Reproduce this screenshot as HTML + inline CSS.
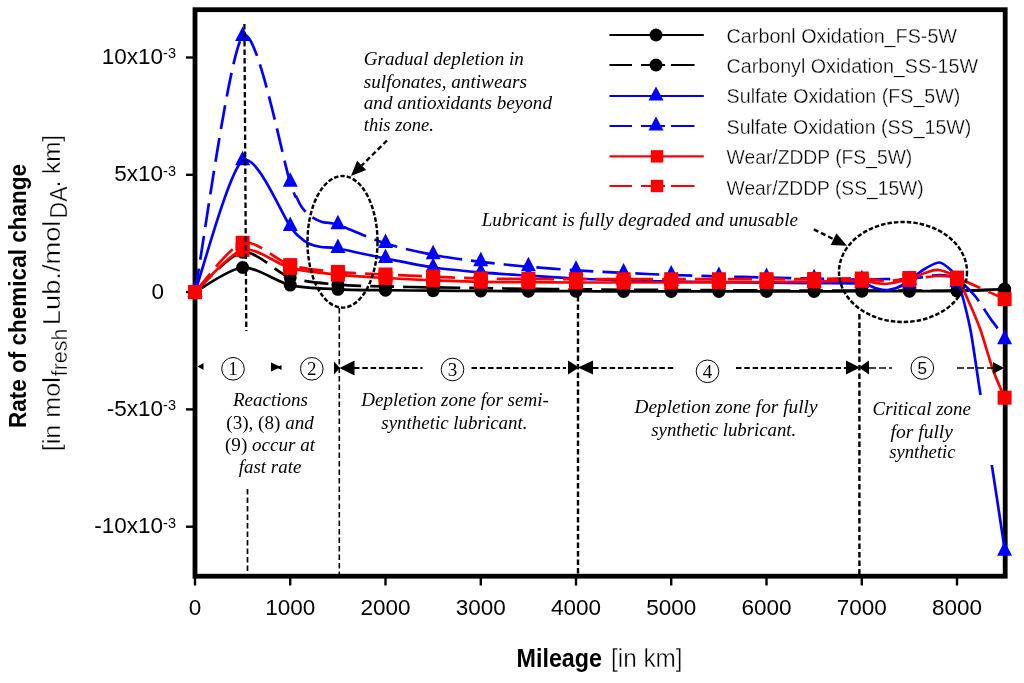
<!DOCTYPE html>
<html lang="en"><head><meta charset="utf-8"><title>Rate of chemical change vs mileage</title>
<style>html,body{margin:0;padding:0;background:#fff}svg{display:block}</style></head>
<body>
<svg width="1024" height="683" viewBox="0 0 1024 683">
<rect width="1024" height="683" fill="#fff"/>
<rect x="195" y="9.7" width="810.2" height="566.5" fill="none" stroke="#000" stroke-width="4.8"/>
<line x1="186" y1="57.5" x2="195" y2="57.5" stroke="#000" stroke-width="2.4"/>
<line x1="186" y1="174.8" x2="195" y2="174.8" stroke="#000" stroke-width="2.4"/>
<line x1="186" y1="292.1" x2="195" y2="292.1" stroke="#000" stroke-width="2.4"/>
<line x1="186" y1="409.4" x2="195" y2="409.4" stroke="#000" stroke-width="2.4"/>
<line x1="186" y1="526.7" x2="195" y2="526.7" stroke="#000" stroke-width="2.4"/>
<line x1="195.0" y1="576" x2="195.0" y2="585.5" stroke="#000" stroke-width="2.4"/>
<line x1="290.2" y1="576" x2="290.2" y2="585.5" stroke="#000" stroke-width="2.4"/>
<line x1="385.5" y1="576" x2="385.5" y2="585.5" stroke="#000" stroke-width="2.4"/>
<line x1="480.8" y1="576" x2="480.8" y2="585.5" stroke="#000" stroke-width="2.4"/>
<line x1="576.0" y1="576" x2="576.0" y2="585.5" stroke="#000" stroke-width="2.4"/>
<line x1="671.2" y1="576" x2="671.2" y2="585.5" stroke="#000" stroke-width="2.4"/>
<line x1="766.5" y1="576" x2="766.5" y2="585.5" stroke="#000" stroke-width="2.4"/>
<line x1="861.8" y1="576" x2="861.8" y2="585.5" stroke="#000" stroke-width="2.4"/>
<line x1="957.0" y1="576" x2="957.0" y2="585.5" stroke="#000" stroke-width="2.4"/>
<g id="data">
<path d="M195.0 292.1 C201.7 288.7 229.3 268.5 242.6 267.5 C256.0 266.5 276.9 282.0 290.2 285.1 C303.6 288.1 324.5 288.6 337.9 289.3 C351.2 290.0 372.2 290.0 385.5 290.2 C398.8 290.4 419.8 290.6 433.1 290.7 C446.5 290.8 467.4 290.9 480.8 290.9 C494.1 291.0 515.0 291.1 528.4 291.2 C541.7 291.2 562.7 291.1 576.0 291.2 C589.3 291.2 610.3 291.4 623.6 291.4 C637.0 291.4 657.9 291.4 671.2 291.4 C684.6 291.4 705.5 291.4 718.9 291.4 C732.2 291.4 753.2 291.4 766.5 291.4 C779.8 291.4 800.8 291.4 814.1 291.4 C827.5 291.4 848.4 291.2 861.8 291.2 C875.1 291.1 896.0 291.2 909.4 291.2 C922.7 291.1 943.7 291.2 957.0 290.9 C970.3 290.6 998.0 289.3 1004.6 289.1" fill="none" stroke="#000" stroke-width="2.7" stroke-linejoin="round"/>
<circle cx="195.0" cy="292.1" r="6.5" fill="#000"/>
<circle cx="242.6" cy="267.5" r="6.5" fill="#000"/>
<circle cx="290.2" cy="285.1" r="6.5" fill="#000"/>
<circle cx="337.9" cy="289.3" r="6.5" fill="#000"/>
<circle cx="385.5" cy="290.2" r="6.5" fill="#000"/>
<circle cx="433.1" cy="290.7" r="6.5" fill="#000"/>
<circle cx="480.8" cy="290.9" r="6.5" fill="#000"/>
<circle cx="528.4" cy="291.2" r="6.5" fill="#000"/>
<circle cx="576.0" cy="291.2" r="6.5" fill="#000"/>
<circle cx="623.6" cy="291.4" r="6.5" fill="#000"/>
<circle cx="671.2" cy="291.4" r="6.5" fill="#000"/>
<circle cx="718.9" cy="291.4" r="6.5" fill="#000"/>
<circle cx="766.5" cy="291.4" r="6.5" fill="#000"/>
<circle cx="814.1" cy="291.4" r="6.5" fill="#000"/>
<circle cx="861.8" cy="291.2" r="6.5" fill="#000"/>
<circle cx="909.4" cy="291.2" r="6.5" fill="#000"/>
<circle cx="957.0" cy="290.9" r="6.5" fill="#000"/>
<circle cx="1004.6" cy="289.1" r="6.5" fill="#000"/>
<path d="M195.0 292.1 C201.7 286.5 229.3 254.3 242.6 252.2 C256.0 250.2 276.9 273.0 290.2 277.6 C303.6 282.1 324.5 283.3 337.9 284.6 C351.2 285.8 372.2 286.1 385.5 286.5 C398.8 286.9 419.8 287.2 433.1 287.4 C446.5 287.6 467.4 287.9 480.8 288.1 C494.1 288.3 515.0 288.7 528.4 288.8 C541.7 289.0 562.7 289.2 576.0 289.3 C589.3 289.4 610.3 289.7 623.6 289.8 C637.0 289.9 657.9 289.9 671.2 290.0 C684.6 290.1 705.5 290.2 718.9 290.2 C732.2 290.3 753.2 290.4 766.5 290.5 C779.8 290.5 800.8 290.7 814.1 290.7 C827.5 290.7 848.4 290.7 861.8 290.7 C875.1 290.7 896.0 290.7 909.4 290.7 C922.7 290.7 943.7 290.8 957.0 290.7 C970.3 290.6 998.0 289.9 1004.6 289.8" fill="none" stroke="#000" stroke-width="2.7" stroke-dasharray="24 9" stroke-linejoin="round"/>
<circle cx="195.0" cy="292.1" r="6.5" fill="#000"/>
<circle cx="242.6" cy="252.2" r="6.5" fill="#000"/>
<circle cx="290.2" cy="277.6" r="6.5" fill="#000"/>
<circle cx="337.9" cy="284.6" r="6.5" fill="#000"/>
<circle cx="385.5" cy="286.5" r="6.5" fill="#000"/>
<circle cx="433.1" cy="287.4" r="6.5" fill="#000"/>
<circle cx="480.8" cy="288.1" r="6.5" fill="#000"/>
<circle cx="528.4" cy="288.8" r="6.5" fill="#000"/>
<circle cx="576.0" cy="289.3" r="6.5" fill="#000"/>
<circle cx="623.6" cy="289.8" r="6.5" fill="#000"/>
<circle cx="671.2" cy="290.0" r="6.5" fill="#000"/>
<circle cx="718.9" cy="290.2" r="6.5" fill="#000"/>
<circle cx="766.5" cy="290.5" r="6.5" fill="#000"/>
<circle cx="814.1" cy="290.7" r="6.5" fill="#000"/>
<circle cx="861.8" cy="290.7" r="6.5" fill="#000"/>
<circle cx="909.4" cy="290.7" r="6.5" fill="#000"/>
<circle cx="957.0" cy="290.7" r="6.5" fill="#000"/>
<circle cx="1004.6" cy="289.8" r="6.5" fill="#000"/>
<path d="M195.0 292.1 C201.7 273.7 229.3 169.9 242.6 160.7 C256.0 151.5 282.4 215.8 290.2 226.4 C298.1 237.0 296.4 234.1 299.0 236.5 C301.6 238.9 305.6 242.0 308.7 243.5 C311.8 245.0 316.9 246.3 321.0 247.0 C325.1 247.7 328.8 246.8 337.9 248.5 C346.9 250.1 372.2 255.9 385.5 258.6 C398.8 261.2 419.8 265.5 433.1 267.5 C446.5 269.4 467.4 271.2 480.8 272.4 C494.1 273.5 515.0 274.8 528.4 275.7 C541.7 276.5 562.7 277.8 576.0 278.5 C589.3 279.2 610.3 279.9 623.6 280.4 C637.0 280.8 657.9 281.3 671.2 281.5 C684.6 281.8 705.5 282.1 718.9 282.2 C732.2 282.4 753.2 282.6 766.5 282.7 C779.8 282.8 800.8 283.1 814.1 283.2 C827.5 283.3 853.2 283.0 861.8 283.7 C870.3 284.3 871.3 287.1 875.0 288.0 C878.7 288.9 883.8 290.6 888.0 290.0 C892.2 289.4 900.1 286.8 905.0 284.0 C909.9 281.2 918.2 273.0 923.0 270.0 C927.8 267.0 935.3 262.4 939.3 262.5 C943.3 262.6 949.3 268.6 951.8 271.0 C954.3 273.4 955.8 277.5 957.0 280.0 C958.2 282.5 958.6 281.8 960.5 288.8 C962.4 295.8 967.7 315.1 970.5 330.0 C973.3 344.9 977.5 376.1 980.5 395.0 C983.5 413.9 988.4 443.4 991.8 465.0 C995.2 486.6 1002.8 537.2 1004.6 549.0" fill="none" stroke="#0000ff" stroke-width="2.7" stroke-linejoin="round"/>
<path d="M195.0 282.1 L202.5 296.6 L187.5 296.6 Z" fill="#0000ff"/>
<path d="M242.6 150.7 L250.1 165.2 L235.1 165.2 Z" fill="#0000ff"/>
<path d="M290.2 216.4 L297.8 230.9 L282.8 230.9 Z" fill="#0000ff"/>
<path d="M337.9 238.5 L345.4 253.0 L330.4 253.0 Z" fill="#0000ff"/>
<path d="M385.5 248.6 L393.0 263.1 L378.0 263.1 Z" fill="#0000ff"/>
<path d="M433.1 257.5 L440.6 272.0 L425.6 272.0 Z" fill="#0000ff"/>
<path d="M480.8 262.4 L488.2 276.9 L473.2 276.9 Z" fill="#0000ff"/>
<path d="M528.4 265.7 L535.9 280.2 L520.9 280.2 Z" fill="#0000ff"/>
<path d="M576.0 268.5 L583.5 283.0 L568.5 283.0 Z" fill="#0000ff"/>
<path d="M623.6 270.4 L631.1 284.9 L616.1 284.9 Z" fill="#0000ff"/>
<path d="M671.2 271.5 L678.8 286.0 L663.8 286.0 Z" fill="#0000ff"/>
<path d="M718.9 272.2 L726.4 286.7 L711.4 286.7 Z" fill="#0000ff"/>
<path d="M766.5 272.7 L774.0 287.2 L759.0 287.2 Z" fill="#0000ff"/>
<path d="M814.1 273.2 L821.6 287.7 L806.6 287.7 Z" fill="#0000ff"/>
<path d="M861.8 273.7 L869.2 288.2 L854.2 288.2 Z" fill="#0000ff"/>
<path d="M909.4 273.9 L916.9 288.4 L901.9 288.4 Z" fill="#0000ff"/>
<path d="M957.0 272.7 L964.5 287.2 L949.5 287.2 Z" fill="#0000ff"/>
<path d="M1004.6 541.3 L1012.1 555.8 L997.1 555.8 Z" fill="#0000ff"/>
<path d="M195.0 292.1 C201.7 256.3 229.3 51.8 242.6 36.4 C256.0 21.0 282.7 159.8 290.2 182.3 C297.8 204.8 294.9 193.5 296.5 197.0 C298.1 200.5 300.0 204.8 302.0 207.5 C304.0 210.2 307.7 214.0 310.5 216.0 C313.3 218.0 318.2 220.8 322.0 222.0 C325.8 223.2 329.0 221.8 337.9 224.8 C346.8 227.8 372.2 239.3 385.5 243.5 C398.8 247.7 419.8 252.2 433.1 254.8 C446.5 257.4 467.4 260.2 480.8 261.8 C494.1 263.5 515.0 265.6 528.4 266.8 C541.7 267.9 562.7 269.4 576.0 270.3 C589.3 271.1 610.3 272.2 623.6 272.9 C637.0 273.5 657.9 274.5 671.2 275.0 C684.6 275.5 705.5 276.0 718.9 276.4 C732.2 276.7 753.2 277.2 766.5 277.6 C779.8 277.9 800.8 278.4 814.1 278.7 C827.5 279.0 851.8 279.6 861.8 279.7 C871.7 279.7 878.3 279.1 885.0 279.0 C891.7 278.9 901.8 279.6 909.4 279.0 C917.0 278.4 932.3 275.0 939.0 275.0 C945.7 275.0 952.0 276.1 957.0 279.0 C962.0 281.9 970.4 290.5 975.0 296.0 C979.6 301.5 985.9 312.2 990.0 318.0 C994.1 323.8 1002.6 334.8 1004.6 337.5" fill="none" stroke="#0000ff" stroke-width="2.7" stroke-dasharray="24 9" stroke-linejoin="round"/>
<path d="M195.0 282.1 L202.5 296.6 L187.5 296.6 Z" fill="#0000ff"/>
<path d="M242.6 26.4 L250.1 40.9 L235.1 40.9 Z" fill="#0000ff"/>
<path d="M290.2 172.3 L297.8 186.8 L282.8 186.8 Z" fill="#0000ff"/>
<path d="M337.9 214.8 L345.4 229.3 L330.4 229.3 Z" fill="#0000ff"/>
<path d="M385.5 233.5 L393.0 248.0 L378.0 248.0 Z" fill="#0000ff"/>
<path d="M433.1 244.8 L440.6 259.3 L425.6 259.3 Z" fill="#0000ff"/>
<path d="M480.8 251.8 L488.2 266.3 L473.2 266.3 Z" fill="#0000ff"/>
<path d="M528.4 256.8 L535.9 271.3 L520.9 271.3 Z" fill="#0000ff"/>
<path d="M576.0 260.3 L583.5 274.8 L568.5 274.8 Z" fill="#0000ff"/>
<path d="M623.6 262.9 L631.1 277.4 L616.1 277.4 Z" fill="#0000ff"/>
<path d="M671.2 265.0 L678.8 279.5 L663.8 279.5 Z" fill="#0000ff"/>
<path d="M718.9 266.4 L726.4 280.9 L711.4 280.9 Z" fill="#0000ff"/>
<path d="M766.5 267.6 L774.0 282.1 L759.0 282.1 Z" fill="#0000ff"/>
<path d="M814.1 268.7 L821.6 283.2 L806.6 283.2 Z" fill="#0000ff"/>
<path d="M861.8 269.7 L869.2 284.2 L854.2 284.2 Z" fill="#0000ff"/>
<path d="M909.4 270.4 L916.9 284.9 L901.9 284.9 Z" fill="#0000ff"/>
<path d="M957.0 270.8 L964.5 285.3 L949.5 285.3 Z" fill="#0000ff"/>
<path d="M1004.6 329.7 L1012.1 344.2 L997.1 344.2 Z" fill="#0000ff"/>
<path d="M195.0 292.1 C201.7 286.2 229.3 253.3 242.6 249.9 C256.0 246.5 276.9 264.5 290.2 267.9 C303.6 271.4 324.5 273.3 337.9 274.7 C351.2 276.2 372.2 277.2 385.5 278.0 C398.8 278.8 419.8 279.8 433.1 280.4 C446.5 280.9 467.4 281.5 480.8 281.8 C494.1 282.0 515.0 282.1 528.4 282.2 C541.7 282.3 562.7 282.4 576.0 282.5 C589.3 282.5 610.3 282.5 623.6 282.5 C637.0 282.5 657.9 282.5 671.2 282.5 C684.6 282.4 705.5 282.3 718.9 282.2 C732.2 282.2 753.2 282.1 766.5 282.0 C779.8 281.9 800.8 281.7 814.1 281.5 C827.5 281.4 851.8 280.5 861.8 280.8 C871.7 281.2 878.3 284.3 885.0 284.0 C891.7 283.7 903.8 280.5 909.4 279.0 C915.0 277.5 920.9 274.3 925.0 273.0 C929.1 271.7 934.5 269.3 939.0 270.0 C943.5 270.7 952.9 273.8 957.0 278.0 C961.1 282.2 964.7 292.7 968.0 300.0 C971.3 307.3 977.0 320.2 980.5 330.0 C984.0 339.8 989.6 360.6 993.0 370.0 C996.4 379.4 1003.0 393.6 1004.6 397.5" fill="none" stroke="#ff0000" stroke-width="2.7" stroke-linejoin="round"/>
<rect x="188.0" y="285.1" width="14" height="14" fill="#ff0000"/>
<rect x="235.6" y="242.9" width="14" height="14" fill="#ff0000"/>
<rect x="283.2" y="260.9" width="14" height="14" fill="#ff0000"/>
<rect x="330.9" y="267.7" width="14" height="14" fill="#ff0000"/>
<rect x="378.5" y="271.0" width="14" height="14" fill="#ff0000"/>
<rect x="426.1" y="273.4" width="14" height="14" fill="#ff0000"/>
<rect x="473.8" y="274.8" width="14" height="14" fill="#ff0000"/>
<rect x="521.4" y="275.2" width="14" height="14" fill="#ff0000"/>
<rect x="569.0" y="275.5" width="14" height="14" fill="#ff0000"/>
<rect x="616.6" y="275.5" width="14" height="14" fill="#ff0000"/>
<rect x="664.2" y="275.5" width="14" height="14" fill="#ff0000"/>
<rect x="711.9" y="275.2" width="14" height="14" fill="#ff0000"/>
<rect x="759.5" y="275.0" width="14" height="14" fill="#ff0000"/>
<rect x="807.1" y="274.5" width="14" height="14" fill="#ff0000"/>
<rect x="854.8" y="273.8" width="14" height="14" fill="#ff0000"/>
<rect x="902.4" y="272.9" width="14" height="14" fill="#ff0000"/>
<rect x="950.0" y="272.0" width="14" height="14" fill="#ff0000"/>
<rect x="997.6" y="390.7" width="14" height="14" fill="#ff0000"/>
<path d="M195.0 292.1 C201.7 285.2 229.3 246.6 242.6 242.8 C256.0 239.1 276.9 261.0 290.2 265.1 C303.6 269.2 324.5 270.6 337.9 271.9 C351.2 273.2 372.2 273.8 385.5 274.5 C398.8 275.2 419.8 276.1 433.1 276.6 C446.5 277.2 467.4 278.2 480.8 278.5 C494.1 278.8 515.0 278.9 528.4 279.0 C541.7 279.1 562.7 279.2 576.0 279.2 C589.3 279.2 610.3 279.2 623.6 279.2 C637.0 279.2 657.9 279.2 671.2 279.2 C684.6 279.2 705.5 279.2 718.9 279.2 C732.2 279.2 753.2 279.2 766.5 279.2 C779.8 279.2 800.8 279.1 814.1 279.0 C827.5 278.9 851.8 278.2 861.8 278.5 C871.7 278.8 878.3 280.9 885.0 281.0 C891.7 281.1 901.8 279.7 909.4 279.0 C917.0 278.3 932.3 276.1 939.0 276.0 C945.7 275.9 951.3 276.3 957.0 278.0 C962.7 279.7 973.3 285.1 980.0 288.0 C986.7 290.9 1001.2 297.5 1004.6 299.0" fill="none" stroke="#ff0000" stroke-width="2.7" stroke-dasharray="24 9" stroke-linejoin="round"/>
<rect x="188.0" y="285.1" width="14" height="14" fill="#ff0000"/>
<rect x="235.6" y="235.8" width="14" height="14" fill="#ff0000"/>
<rect x="283.2" y="258.1" width="14" height="14" fill="#ff0000"/>
<rect x="330.9" y="264.9" width="14" height="14" fill="#ff0000"/>
<rect x="378.5" y="267.5" width="14" height="14" fill="#ff0000"/>
<rect x="426.1" y="269.6" width="14" height="14" fill="#ff0000"/>
<rect x="473.8" y="271.5" width="14" height="14" fill="#ff0000"/>
<rect x="521.4" y="272.0" width="14" height="14" fill="#ff0000"/>
<rect x="569.0" y="272.2" width="14" height="14" fill="#ff0000"/>
<rect x="616.6" y="272.2" width="14" height="14" fill="#ff0000"/>
<rect x="664.2" y="272.2" width="14" height="14" fill="#ff0000"/>
<rect x="711.9" y="272.2" width="14" height="14" fill="#ff0000"/>
<rect x="759.5" y="272.2" width="14" height="14" fill="#ff0000"/>
<rect x="807.1" y="272.0" width="14" height="14" fill="#ff0000"/>
<rect x="854.8" y="271.5" width="14" height="14" fill="#ff0000"/>
<rect x="902.4" y="271.0" width="14" height="14" fill="#ff0000"/>
<rect x="950.0" y="270.6" width="14" height="14" fill="#ff0000"/>
<rect x="997.6" y="292.1" width="14" height="14" fill="#ff0000"/>
</g>
<rect x="222" y="331" width="96" height="157" fill="#fff"/>
<rect x="868" y="395" width="126" height="70" fill="#fff"/>
<g font-family="'Liberation Sans', Arial, sans-serif" font-size="22.5" fill="#000">
<text x="195.0" y="615" text-anchor="middle">0</text>
<text x="290.2" y="615" text-anchor="middle">1000</text>
<text x="385.5" y="615" text-anchor="middle">2000</text>
<text x="480.8" y="615" text-anchor="middle">3000</text>
<text x="576.0" y="615" text-anchor="middle">4000</text>
<text x="671.2" y="615" text-anchor="middle">5000</text>
<text x="766.5" y="615" text-anchor="middle">6000</text>
<text x="861.8" y="615" text-anchor="middle">7000</text>
<text x="957.0" y="615" text-anchor="middle">8000</text>
<text x="176" y="64.0" text-anchor="end">10x10<tspan font-size="14.5" dy="-5.6">-3</tspan></text>
<text x="176" y="181.3" text-anchor="end">5x10<tspan font-size="14.5" dy="-5.6">-3</tspan></text>
<text x="176" y="415.9" text-anchor="end">-5x10<tspan font-size="14.5" dy="-5.6">-3</tspan></text>
<text x="176" y="533.2" text-anchor="end">-10x10<tspan font-size="14.5" dy="-5.6">-3</tspan></text>
<text x="176" y="298.6" text-anchor="end" dx="-12">0</text>
</g>
<line x1="244.4" y1="24" x2="246.3" y2="331" stroke="#000" stroke-width="2.3" stroke-dasharray="5.5 3"/>
<line x1="247.5" y1="489.0" x2="247.5" y2="574.0" stroke="#000" stroke-width="1.7" stroke-dasharray="5.5 3"/>
<line x1="339.3" y1="308.0" x2="339.3" y2="574.0" stroke="#000" stroke-width="1.6" stroke-dasharray="5.5 3"/>
<line x1="578.0" y1="296.0" x2="578.0" y2="574.0" stroke="#000" stroke-width="2.4" stroke-dasharray="5.5 3"/>
<line x1="859.4" y1="314.0" x2="859.4" y2="574.0" stroke="#000" stroke-width="2.4" stroke-dasharray="5.5 3"/>
<ellipse cx="342.5" cy="241.8" rx="35" ry="65.8" fill="none" stroke="#000" stroke-width="2.45" stroke-dasharray="4.5 2"/>
<ellipse cx="903" cy="272" rx="64" ry="50" fill="none" stroke="#000" stroke-width="2.45" stroke-dasharray="4.5 2"/>
<line x1="387.0" y1="140.5" x2="361.7" y2="165.5" stroke="#000" stroke-width="2.4" stroke-dasharray="5 3"/>
<path d="M351.0 176.0 L357.1 160.8 L366.2 170.1 Z" fill="#000"/>
<line x1="813.8" y1="229.4" x2="833.6" y2="239.2" stroke="#000" stroke-width="2.4" stroke-dasharray="5 3"/>
<path d="M847.0 245.8 L830.7 245.0 L836.4 233.3 Z" fill="#000"/>
<path d="M197.5 366.5 L203.5 363.0 L203.5 370.0 Z" fill="#000"/>
<path d="M281.0 367.0 L271.0 362.5 L271.0 371.5 Z" fill="#000"/>
<path d="M276.5 367.5 L281.5 365.0 L281.5 370.0 Z" fill="#000"/>
<path d="M340.0 368.0 L334.0 361.5 L334.0 374.5 Z" fill="#000"/>
<path d="M339.5 368.0 L354.5 360.5 L354.5 375.5 Z" fill="#000"/>
<line x1="354.0" y1="368.0" x2="422.5" y2="368.0" stroke="#000" stroke-width="2.1" stroke-dasharray="5.5 2.8"/>
<line x1="471.5" y1="368.0" x2="566.0" y2="368.0" stroke="#000" stroke-width="2.1" stroke-dasharray="5.5 2.8"/>
<path d="M579.0 367.5 L568.0 360.5 L568.0 374.5 Z" fill="#000"/>
<path d="M578.0 367.5 L593.0 360.5 L593.0 374.5 Z" fill="#000"/>
<line x1="593.0" y1="368.0" x2="676.0" y2="368.0" stroke="#000" stroke-width="2.0" stroke-dasharray="5.5 2.8"/>
<line x1="736.0" y1="368.0" x2="846.0" y2="368.0" stroke="#000" stroke-width="2.0" stroke-dasharray="5.5 2.8"/>
<path d="M860.0 367.5 L846.0 360.5 L846.0 374.5 Z" fill="#000"/>
<path d="M859.0 367.5 L869.0 360.5 L869.0 374.5 Z" fill="#000"/>
<line x1="869.0" y1="368.0" x2="892.0" y2="368.0" stroke="#000" stroke-width="1.3" stroke-dasharray="7 3"/>
<line x1="957.0" y1="368.0" x2="994.0" y2="368.0" stroke="#000" stroke-width="1.3" stroke-dasharray="7 3"/>
<path d="M1004.0 368.0 L993.0 362.0 L993.0 374.0 Z" fill="#000"/>
<g font-family="'Liberation Serif', 'Times New Roman', serif" font-size="19" text-anchor="middle" fill="#000">
<circle cx="233.0" cy="368.8" r="11.3" fill="#fff" stroke="#000" stroke-width="1"/>
<text x="233.0" y="375.1">1</text>
<circle cx="311.8" cy="368.8" r="11.3" fill="#fff" stroke="#000" stroke-width="1"/>
<text x="311.8" y="375.1">2</text>
<circle cx="452.5" cy="369.5" r="11.3" fill="#fff" stroke="#000" stroke-width="1"/>
<text x="452.5" y="375.8">3</text>
<circle cx="707.5" cy="371.3" r="11.3" fill="#fff" stroke="#000" stroke-width="1"/>
<text x="707.5" y="377.6">4</text>
<circle cx="922.3" cy="368.0" r="11.3" fill="#fff" stroke="#000" stroke-width="1"/>
<text x="922.3" y="374.0" font-family="'Liberation Sans', Arial, sans-serif" font-size="17">5</text>
</g>
<g font-family="'Liberation Serif', 'Times New Roman', serif" font-size="19" font-style="italic" fill="#000">
<text x="363.8" y="65.0" text-anchor="start" textLength="160.0" lengthAdjust="spacingAndGlyphs">Gradual depletion in</text>
<text x="363.8" y="87.5" text-anchor="start" textLength="163.2" lengthAdjust="spacingAndGlyphs">sulfonates, antiwears</text>
<text x="363.8" y="108.8" text-anchor="start" textLength="188.2" lengthAdjust="spacingAndGlyphs">and antioxidants beyond</text>
<text x="363.8" y="130.5" text-anchor="start" textLength="70.0" lengthAdjust="spacingAndGlyphs">this zone.</text>
<text x="481.7" y="226.3" text-anchor="start" textLength="316.3" lengthAdjust="spacingAndGlyphs">Lubricant is fully degraded and unusable</text>
<text x="233.0" y="406.0" text-anchor="start" textLength="75.0" lengthAdjust="spacingAndGlyphs">Reactions</text>
<text x="226.3" y="428.8" text-anchor="start" textLength="87.5" lengthAdjust="spacingAndGlyphs"><tspan font-style="normal">(3), (8)</tspan> and</text>
<text x="225.0" y="450.8" text-anchor="start" textLength="90.0" lengthAdjust="spacingAndGlyphs"><tspan font-style="normal">(9)</tspan> occur at</text>
<text x="238.8" y="472.5" text-anchor="start" textLength="62.5" lengthAdjust="spacingAndGlyphs">fast rate</text>
<text x="361.3" y="406.3" text-anchor="start" textLength="187.5" lengthAdjust="spacingAndGlyphs">Depletion zone for semi-</text>
<text x="381.3" y="428.8" text-anchor="start" textLength="146.2" lengthAdjust="spacingAndGlyphs">synthetic lubricant.</text>
<text x="634.5" y="413.0" text-anchor="start" textLength="183.0" lengthAdjust="spacingAndGlyphs">Depletion zone for fully</text>
<text x="651.3" y="435.5" text-anchor="start" textLength="145.0" lengthAdjust="spacingAndGlyphs">synthetic lubricant.</text>
<text x="872.5" y="415.0" text-anchor="start" textLength="98.5" lengthAdjust="spacingAndGlyphs">Critical zone</text>
<text x="890.5" y="437.5" text-anchor="start" textLength="62.5" lengthAdjust="spacingAndGlyphs">for fully</text>
<text x="889.3" y="458.0" text-anchor="start" textLength="66.2" lengthAdjust="spacingAndGlyphs">synthetic</text>
</g>
<g font-family="'Liberation Sans', Arial, sans-serif" font-size="19.6" fill="#000">
<line x1="609.5" y1="35.0" x2="703.8" y2="35.0" stroke="#000" stroke-width="2.2"/>
<circle cx="656.0" cy="35.0" r="6.5" fill="#000"/>
<text x="726.6" y="42.7" textLength="230.4" lengthAdjust="spacingAndGlyphs" stroke="#fff" stroke-width="0.3">Carbonl Oxidation_FS-5W</text>
<path d="M609.5 65.0 H632 M641 65.0 H665 M671 65.0 H694.5" stroke="#000" stroke-width="2.2" fill="none"/>
<circle cx="656.0" cy="65.0" r="6.5" fill="#000"/>
<text x="726.6" y="73.0" textLength="251.4" lengthAdjust="spacingAndGlyphs" stroke="#fff" stroke-width="0.3">Carbonyl Oxidation_SS-15W</text>
<line x1="609.5" y1="96.0" x2="703.8" y2="96.0" stroke="#0000ff" stroke-width="2.2"/>
<path d="M656.0 86.5 L663.5 100.5 L648.5 100.5 Z" fill="#0000ff"/>
<text x="726.6" y="103.2" textLength="233.8" lengthAdjust="spacingAndGlyphs" stroke="#fff" stroke-width="0.3">Sulfate Oxidation (FS_5W)</text>
<path d="M609.5 126.0 H632 M641 126.0 H665 M671 126.0 H694.5" stroke="#0000ff" stroke-width="2.2" fill="none"/>
<path d="M656.0 116.5 L663.5 130.5 L648.5 130.5 Z" fill="#0000ff"/>
<text x="726.6" y="133.5" textLength="244.7" lengthAdjust="spacingAndGlyphs" stroke="#fff" stroke-width="0.3">Sulfate Oxidation (SS_15W)</text>
<line x1="609.5" y1="156.4" x2="703.8" y2="156.4" stroke="#ff0000" stroke-width="2.2"/>
<rect x="650.8" y="150.2" width="12.4" height="12.4" fill="#ff0000"/>
<text x="726.6" y="164.0" textLength="185.7" lengthAdjust="spacingAndGlyphs" stroke="#fff" stroke-width="0.3">Wear/ZDDP (FS_5W)</text>
<path d="M609.5 186.0 H632 M641 186.0 H665 M671 186.0 H694.5" stroke="#ff0000" stroke-width="2.2" fill="none"/>
<rect x="650.8" y="179.8" width="12.4" height="12.4" fill="#ff0000"/>
<text x="726.6" y="194.5" textLength="197.1" lengthAdjust="spacingAndGlyphs" stroke="#fff" stroke-width="0.3">Wear/ZDDP (SS_15W)</text>
</g>
<text x="516.6" y="667" font-family="'Liberation Sans', Arial, sans-serif" font-size="25" font-weight="bold" fill="#000" textLength="85.4" lengthAdjust="spacingAndGlyphs">Mileage</text>
<text x="611" y="667" font-family="'Liberation Sans', Arial, sans-serif" font-size="25" fill="#000" stroke="#fff" stroke-width="0.4" textLength="71.6" lengthAdjust="spacingAndGlyphs">[in km]</text>
<text transform="translate(26.3 428) rotate(-90)" font-family="'Liberation Sans', Arial, sans-serif" font-size="23.5" font-weight="bold" fill="#000" textLength="264" lengthAdjust="spacingAndGlyphs">Rate of chemical change</text>
<g font-family="'Liberation Sans', Arial, sans-serif" font-size="24.6" fill="#000" stroke="#fff" stroke-width="0.35">
<text transform="translate(60.3 451.2) rotate(-90)" textLength="74.0" lengthAdjust="spacingAndGlyphs">[in mol</text>
<text transform="translate(66.9 376.2) rotate(-90)" font-size="22" textLength="47.5" lengthAdjust="spacingAndGlyphs">fresh</text>
<text transform="translate(60.3 325.2) rotate(-90)" textLength="104.6" lengthAdjust="spacingAndGlyphs">Lub./mol</text>
<text transform="translate(67.3 218.5) rotate(-90)" font-size="24" textLength="32.0" lengthAdjust="spacingAndGlyphs">DA</text>
<text transform="translate(60.3 187) rotate(-90)" stroke="none" font-size="22">.</text>
<text transform="translate(60.3 173.9) rotate(-90)" textLength="39.0" lengthAdjust="spacingAndGlyphs">km]</text>
</g>
</svg>
</body></html>
